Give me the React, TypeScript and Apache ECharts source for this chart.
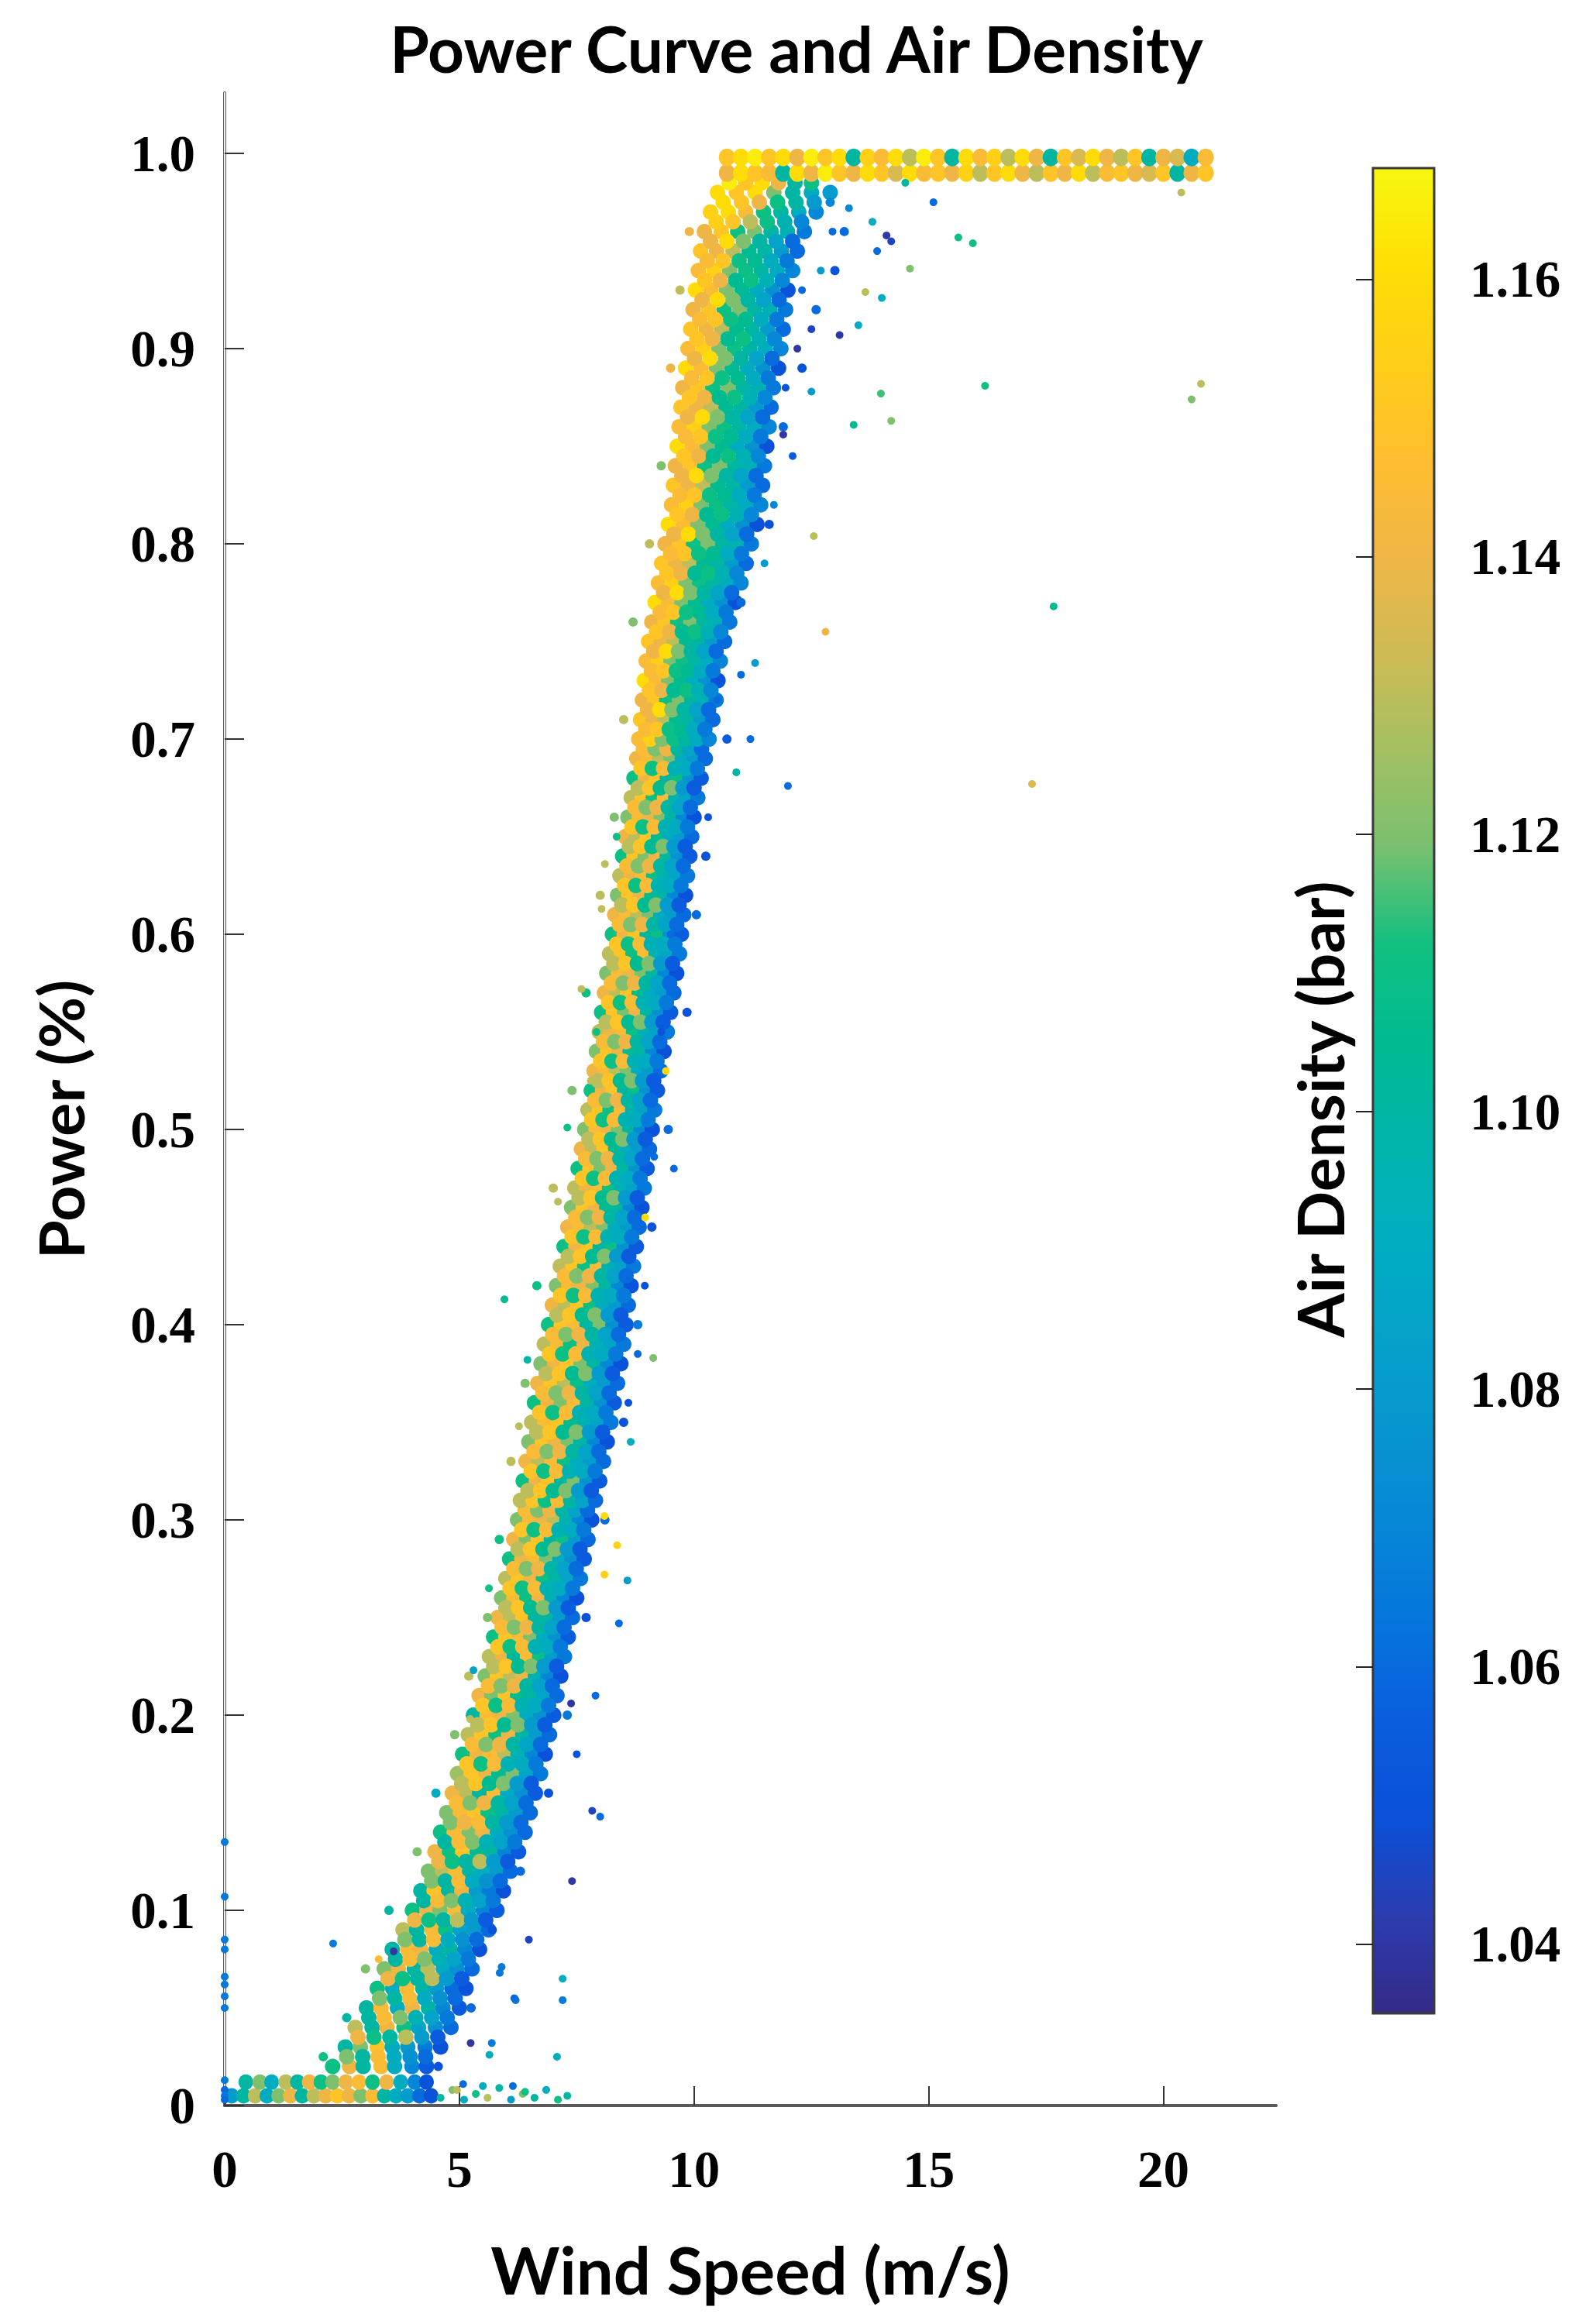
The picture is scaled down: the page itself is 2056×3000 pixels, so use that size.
import React, { useEffect, useRef } from "react";
import * as echarts from "echarts";

// ---------- axis ticks ----------
const xTicks = [0, 5, 10, 15, 20];
const yTicks = [0, 0.1, 0.2, 0.3, 0.4, 0.5, 0.6, 0.7, 0.8, 0.9, 1.0];
const densityTicks = [1.04, 1.06, 1.08, 1.1, 1.12, 1.14, 1.16];
const densityRange = [1.035, 1.168];
const windRange = [0, 22.4];
const powerRange = [0, 1.031];

// parula-like colour map, low density -> high density
const densityColors = [
  "#352a87", "#2b3cb0", "#0a50d8", "#0a5ddf", "#0575dc", "#0686d6", "#0795cf",
  "#05a2ca", "#00aec0", "#00b4aa", "#00bb92", "#10c080", "#78c070", "#a3c062",
  "#cfbb55", "#efb646", "#ffbe30", "#ffce18", "#ffde05", "#f7f710",
];

// ---------- data: "power | wind speeds | air densities" ----------
const baselineRows = [
  "0.005|0.15 0.40 0.65 0.90 1.15 1.40 1.65 1.90 2.15 2.40 2.65 2.90 3.15 3.40 3.65 3.90 4.15 4.40|1.08 1.10 1.13 1.09 1.12 1.14 1.10 1.13 1.14 1.15 1.14 1.12 1.145 1.10 1.09 1.08 1.06 1.05",
  "0.012|0.45 0.75 1.00 1.30 1.55 1.80 2.05 2.30 2.58 2.86 3.15 3.45 3.75 4.05 4.30|1.10 1.12 1.09 1.13 1.10 1.14 1.11 1.12 1.14 1.145 1.11 1.14 1.09 1.07 1.05",
];

const bandLower = [
  "0.02|2.30 2.66 2.95 3.33 3.62 3.99 4.30|1.11 1.14 1.10 1.145 1.09 1.07 1.055",
  "0.03|2.57 2.89 3.25 3.57 3.90 4.27 4.60|1.10 1.12 1.15 1.09 1.08 1.065 1.05",
  "0.04|2.78 3.14 3.46 3.82 4.13 4.49 4.82|1.13 1.10 1.14 1.11 1.085 1.075 1.06",
  "0.05|3.02 3.33 3.68 4.00 4.34 4.65 5.00|1.10 1.145 1.09 1.14 1.10 1.07 1.055",
  "0.06|3.25 3.58 3.88 4.22 4.51 4.84 5.14|1.11 1.09 1.145 1.10 1.08 1.06 1.05",
  "0.07|3.40 3.70 4.04 4.33 4.66 4.95 5.27|1.12 1.14 1.10 1.13 1.09 1.075 1.06",
  "0.08|3.57 3.90 4.18 4.51 4.81 5.12 5.43|1.10 1.145 1.14 1.09 1.10 1.07 1.05",
  "0.09|3.80 4.09 4.42 4.71 5.02 5.32 5.62|1.13 1.10 1.145 1.11 1.085 1.08 1.06",
  "0.10|4.00 4.31 4.59 4.91 5.19 5.51 5.80|1.11 1.14 1.12 1.145 1.09 1.07 1.055",
  "0.11|4.18 4.46 4.77 5.05 5.36 5.64 5.94|1.10 1.15 1.10 1.14 1.08 1.065 1.05",
  "0.12|4.34 4.64 4.92 5.22 5.50 5.80 6.09|1.12 1.13 1.145 1.10 1.09 1.08 1.06",
  "0.13|4.48 4.79 5.07 5.38 5.67 5.97 6.26|1.14 1.11 1.15 1.105 1.10 1.07 1.055",
  "0.14|4.60 4.89 5.21 5.49 5.81 6.10 6.40|1.11 1.145 1.12 1.14 1.09 1.075 1.06",
  "0.15|4.73 5.02 5.33 5.61 5.92 6.21 6.51|1.12 1.145 1.15 1.11 1.10 1.08 1.06",
  "0.16|4.85 5.16 5.43 5.74 6.03 6.33 6.62|1.14 1.13 1.10 1.145 1.09 1.075 1.055",
  "0.17|4.96 5.25 5.56 5.84 6.15 6.43 6.73|1.125 1.15 1.14 1.105 1.12 1.085 1.065",
  "0.18|5.07 5.38 5.66 5.97 6.25 6.55 6.83|1.11 1.14 1.145 1.13 1.095 1.07 1.05",
  "0.19|5.19 5.47 5.78 6.05 6.35 6.63 6.92|1.13 1.15 1.11 1.14 1.10 1.08 1.06",
  "0.20|5.30 5.59 5.86 6.16 6.44 6.73 7.01|1.10 1.145 1.14 1.12 1.09 1.075 1.055",
  "0.21|5.42 5.69 5.98 6.24 6.53 6.80 7.08|1.14 1.12 1.15 1.105 1.10 1.085 1.06",
  "0.22|5.55 5.81 6.09 6.35 6.62 6.89 7.16|1.12 1.15 1.13 1.14 1.095 1.07 1.05",
  "0.23|5.64 5.92 6.17 6.45 6.71 6.97 7.24|1.13 1.14 1.10 1.145 1.11 1.08 1.065",
  "0.24|5.73 5.99 6.27 6.52 6.80 7.05 7.32|1.11 1.15 1.145 1.12 1.09 1.075 1.055",
  "0.25|5.82 6.09 6.35 6.62 6.88 7.15 7.41|1.14 1.13 1.15 1.10 1.10 1.08 1.06",
  "0.26|5.90 6.16 6.44 6.70 6.97 7.23 7.50|1.12 1.145 1.11 1.14 1.095 1.07 1.05",
  "0.27|5.99 6.26 6.52 6.79 7.05 7.32 7.58|1.13 1.15 1.14 1.11 1.10 1.085 1.065",
  "0.28|6.07 6.33 6.61 6.86 7.14 7.40 7.66|1.11 1.14 1.145 1.12 1.09 1.075 1.055",
  "0.29|6.16 6.43 6.68 6.96 7.21 7.48 7.74|1.14 1.12 1.15 1.10 1.11 1.08 1.06",
  "0.30|6.24 6.50 6.77 7.03 7.29 7.56 7.82|1.12 1.145 1.14 1.13 1.095 1.07 1.05",
];

const bandMiddle = [
  "0.31|6.30 6.57 6.83 7.10 7.37 7.63 7.90|1.13 1.15 1.11 1.145 1.10 1.085 1.06",
  "0.32|6.36 6.64 6.90 7.18 7.45 7.72 7.99|1.11 1.14 1.15 1.10 1.12 1.075 1.055",
  "0.33|6.42 6.69 6.97 7.24 7.52 7.79 8.07|1.14 1.13 1.145 1.11 1.09 1.08 1.06",
  "0.34|6.48 6.77 7.04 7.32 7.59 7.88 8.15|1.12 1.15 1.14 1.12 1.10 1.07 1.05",
  "0.35|6.54 6.82 7.11 7.38 7.67 7.94 8.23|1.13 1.145 1.15 1.105 1.095 1.085 1.065",
  "0.36|6.60 6.89 7.17 7.45 7.73 8.02 8.30|1.11 1.14 1.12 1.145 1.10 1.075 1.055",
  "0.37|6.67 6.95 7.24 7.52 7.80 8.09 8.37|1.14 1.15 1.13 1.11 1.09 1.08 1.06",
  "0.38|6.74 7.03 7.30 7.59 7.87 8.16 8.44|1.12 1.14 1.15 1.12 1.10 1.07 1.05",
  "0.39|6.81 7.10 7.37 7.66 7.93 8.22 8.50|1.13 1.145 1.11 1.14 1.095 1.085 1.065",
  "0.40|6.90 7.17 7.45 7.72 8.00 8.27 8.55|1.11 1.15 1.145 1.10 1.12 1.075 1.055",
  "0.41|6.98 7.26 7.52 7.80 8.06 8.34 8.60|1.14 1.13 1.15 1.11 1.09 1.08 1.06",
  "0.42|7.07 7.33 7.60 7.86 8.13 8.39 8.66|1.12 1.145 1.14 1.12 1.10 1.07 1.05",
  "0.43|7.15 7.42 7.67 7.94 8.19 8.46 8.71|1.13 1.15 1.11 1.145 1.095 1.085 1.065",
  "0.44|7.23 7.48 7.75 8.00 8.26 8.51 8.77|1.11 1.14 1.15 1.10 1.11 1.075 1.055",
  "0.45|7.31 7.57 7.81 8.07 8.32 8.58 8.83|1.14 1.145 1.13 1.12 1.09 1.08 1.06",
  "0.46|7.39 7.64 7.89 8.14 8.39 8.64 8.89|1.12 1.15 1.14 1.105 1.10 1.07 1.05",
  "0.47|7.46 7.70 7.95 8.20 8.44 8.69 8.94|1.13 1.14 1.145 1.11 1.095 1.085 1.065",
  "0.48|7.53 7.78 8.02 8.27 8.51 8.76 9.00|1.11 1.15 1.12 1.14 1.10 1.075 1.055",
  "0.49|7.60 7.84 8.08 8.33 8.57 8.81 9.05|1.14 1.13 1.15 1.105 1.09 1.08 1.06",
  "0.50|7.67 7.91 8.15 8.39 8.63 8.87 9.11|1.12 1.145 1.14 1.12 1.10 1.07 1.05",
  "0.51|7.74 7.98 8.21 8.45 8.69 8.92 9.16|1.13 1.15 1.11 1.145 1.095 1.085 1.065",
  "0.52|7.81 8.05 8.28 8.52 8.75 8.99 9.22|1.11 1.14 1.15 1.10 1.11 1.075 1.055",
  "0.53|7.87 8.11 8.34 8.58 8.82 9.05 9.29|1.14 1.145 1.13 1.12 1.09 1.08 1.06",
  "0.54|7.92 8.16 8.40 8.64 8.88 9.12 9.36|1.12 1.15 1.14 1.105 1.10 1.07 1.05",
  "0.55|7.98 8.22 8.46 8.71 8.95 9.19 9.43|1.13 1.14 1.145 1.11 1.095 1.085 1.065",
  "0.56|8.03 8.28 8.52 8.77 9.01 9.26 9.50|1.11 1.15 1.12 1.14 1.10 1.075 1.055",
  "0.57|8.09 8.34 8.58 8.83 9.08 9.32 9.57|1.14 1.13 1.15 1.105 1.09 1.08 1.06",
  "0.58|8.14 8.39 8.64 8.89 9.13 9.38 9.63|1.12 1.145 1.14 1.12 1.10 1.07 1.05",
  "0.59|8.20 8.45 8.70 8.95 9.19 9.44 9.69|1.13 1.15 1.11 1.145 1.095 1.085 1.065",
  "0.60|8.26 8.51 8.75 9.00 9.24 9.49 9.73|1.11 1.14 1.15 1.10 1.11 1.075 1.055",
  "0.61|8.31 8.56 8.80 9.05 9.29 9.54 9.78|1.14 1.145 1.13 1.12 1.09 1.08 1.06",
  "0.62|8.37 8.61 8.85 9.10 9.34 9.58 9.82|1.12 1.15 1.14 1.105 1.10 1.07 1.05",
  "0.63|8.42 8.66 8.90 9.14 9.38 9.62 9.86|1.13 1.14 1.145 1.11 1.095 1.085 1.065",
  "0.64|8.48 8.72 8.96 9.19 9.43 9.67 9.91|1.11 1.15 1.12 1.14 1.10 1.075 1.055",
  "0.65|8.53 8.77 9.00 9.24 9.48 9.71 9.95|1.14 1.13 1.15 1.105 1.09 1.08 1.06",
  "0.66|8.59 8.83 9.06 9.30 9.53 9.77 10.00|1.12 1.145 1.14 1.12 1.10 1.07 1.05",
  "0.67|8.66 8.90 9.13 9.37 9.61 9.84 10.08|1.13 1.15 1.11 1.145 1.095 1.085 1.065",
  "0.68|8.72 8.96 9.20 9.43 9.67 9.91 10.15|1.11 1.14 1.15 1.10 1.11 1.075 1.055",
  "0.69|8.78 9.02 9.27 9.51 9.75 10.00 10.24|1.14 1.145 1.13 1.12 1.09 1.08 1.06",
];

const bandUpper = [
  "0.70|8.82 9.07 9.32 9.57 9.82 10.07 10.32|1.145 1.155 1.12 1.11 1.10 1.09 1.07",
  "0.71|8.86 9.12 9.37 9.63 9.89 10.14 10.40|1.15 1.14 1.13 1.105 1.10 1.08 1.06",
  "0.72|8.90 9.16 9.42 9.69 9.95 10.21 10.47|1.14 1.15 1.11 1.12 1.10 1.095 1.065",
  "0.73|8.94 9.20 9.46 9.73 9.99 10.25 10.51|1.16 1.145 1.12 1.105 1.09 1.075 1.05",
  "0.74|8.98 9.24 9.51 9.77 10.03 10.30 10.56|1.145 1.155 1.12 1.11 1.10 1.09 1.07",
  "0.75|9.03 9.30 9.57 9.84 10.11 10.38 10.65|1.15 1.14 1.13 1.105 1.10 1.08 1.06",
  "0.76|9.10 9.38 9.65 9.93 10.21 10.48 10.76|1.14 1.15 1.11 1.12 1.10 1.095 1.065",
  "0.77|9.17 9.46 9.74 10.03 10.31 10.60 10.88|1.16 1.145 1.12 1.105 1.09 1.075 1.05",
  "0.78|9.24 9.53 9.83 10.12 10.41 10.71 11.00|1.145 1.155 1.12 1.11 1.10 1.09 1.07",
  "0.79|9.31 9.61 9.91 10.21 10.51 10.81 11.11|1.15 1.14 1.13 1.105 1.10 1.08 1.06",
  "0.80|9.38 9.69 9.99 10.30 10.61 10.91 11.22|1.14 1.15 1.11 1.12 1.10 1.095 1.065",
  "0.81|9.45 9.77 10.08 10.40 10.71 11.03 11.34|1.16 1.145 1.12 1.105 1.09 1.075 1.05",
  "0.82|9.52 9.84 10.15 10.47 10.79 11.10 11.42|1.145 1.155 1.12 1.11 1.10 1.09 1.07",
  "0.83|9.56 9.88 10.19 10.51 10.83 11.14 11.46|1.15 1.14 1.13 1.105 1.10 1.08 1.06",
  "0.84|9.60 9.92 10.23 10.55 10.87 11.18 11.50|1.14 1.15 1.11 1.12 1.10 1.095 1.065",
  "0.85|9.64 9.96 10.28 10.60 10.91 11.23 11.55|1.16 1.145 1.12 1.105 1.09 1.075 1.05",
  "0.86|9.68 10.00 10.32 10.64 10.96 11.28 11.60|1.145 1.155 1.12 1.11 1.10 1.09 1.07",
  "0.87|9.72 10.04 10.36 10.68 11.00 11.32 11.64|1.15 1.14 1.13 1.105 1.10 1.08 1.06",
  "0.88|9.76 10.08 10.40 10.73 11.05 11.37 11.69|1.14 1.15 1.11 1.12 1.10 1.095 1.065",
  "0.89|9.82 10.15 10.48 10.81 11.14 11.47 11.80|1.16 1.145 1.12 1.105 1.09 1.075 1.05",
  "0.90|9.87 10.20 10.53 10.86 11.19 11.52 11.85|1.145 1.155 1.12 1.11 1.10 1.09 1.07",
  "0.91|9.93 10.26 10.59 10.91 11.24 11.57 11.90|1.15 1.14 1.13 1.105 1.10 1.08 1.06",
  "0.92|9.98 10.31 10.64 10.97 11.29 11.62 11.95|1.14 1.15 1.11 1.12 1.10 1.095 1.065",
  "0.93|10.03 10.36 10.69 11.02 11.34 11.67 12.00|1.16 1.145 1.12 1.105 1.09 1.075 1.05",
  "0.94|10.09 10.43 10.76 11.10 11.43 11.77 12.10|1.145 1.155 1.12 1.11 1.10 1.09 1.07",
  "0.95|10.14 10.48 10.83 11.17 11.51 11.86 12.20|1.15 1.14 1.13 1.105 1.10 1.08 1.06",
  "0.96|10.22 10.58 10.93 11.29 11.64 11.99 12.35|1.14 1.15 1.11 1.12 1.10 1.095 1.065",
  "0.97|10.35 10.73 11.10 11.48 11.85 12.23 12.60|1.155 1.16 1.145 1.11 1.10 1.09 1.07",
  "0.98|10.50 10.90 11.30 11.70 12.10 12.50 12.90|1.16 1.15 1.16 1.12 1.10 1.09 1.08",
];

// in-between rows of the band (read at half steps of power)
const bandHalfLower = [
  "0.025|2.60 2.94 3.27 3.61 3.95 4.28|1.12 1.10 1.145 1.09 1.075 1.06",
  "0.035|2.84 3.18 3.52 3.86 4.20 4.54|1.14 1.11 1.10 1.13 1.08 1.055",
  "0.045|3.07 3.40 3.74 4.07 4.41 4.74|1.10 1.145 1.12 1.095 1.085 1.065",
  "0.055|3.30 3.62 3.94 4.26 4.59 4.91|1.12 1.10 1.145 1.09 1.075 1.06",
  "0.065|3.48 3.79 4.11 4.42 4.73 5.05|1.14 1.11 1.10 1.13 1.08 1.055",
  "0.075|3.64 3.95 4.26 4.57 4.88 5.19|1.10 1.145 1.12 1.095 1.085 1.065",
  "0.085|3.84 4.15 4.45 4.76 5.07 5.37|1.12 1.10 1.145 1.09 1.075 1.06",
  "0.095|4.05 4.35 4.66 4.96 5.26 5.56|1.14 1.11 1.10 1.13 1.08 1.055",
  "0.105|4.24 4.54 4.83 5.13 5.43 5.72|1.10 1.145 1.12 1.095 1.085 1.065",
  "0.115|4.41 4.70 4.99 5.28 5.58 5.87|1.12 1.10 1.145 1.09 1.075 1.06",
  "0.125|4.56 4.85 5.14 5.44 5.73 6.03|1.14 1.11 1.10 1.13 1.08 1.055",
  "0.135|4.69 4.99 5.28 5.58 5.88 6.18|1.10 1.145 1.12 1.095 1.085 1.065",
  "0.145|4.81 5.11 5.41 5.71 6.01 6.31|1.12 1.14 1.145 1.10 1.08 1.06",
  "0.155|4.94 5.23 5.53 5.83 6.12 6.42|1.145 1.12 1.14 1.10 1.085 1.06",
  "0.165|5.05 5.35 5.64 5.94 6.23 6.53|1.13 1.15 1.105 1.12 1.08 1.055",
  "0.175|5.16 5.46 5.75 6.04 6.34 6.63|1.15 1.11 1.145 1.095 1.09 1.065",
  "0.185|5.28 5.57 5.86 6.15 6.44 6.73|1.145 1.12 1.14 1.10 1.085 1.06",
  "0.195|5.39 5.68 5.96 6.25 6.54 6.82|1.13 1.15 1.105 1.12 1.08 1.055",
  "0.205|5.50 5.78 6.06 6.34 6.62 6.90|1.15 1.11 1.145 1.095 1.09 1.065",
  "0.215|5.62 5.89 6.17 6.44 6.71 6.98|1.145 1.12 1.14 1.10 1.085 1.06",
  "0.225|5.73 6.00 6.26 6.53 6.80 7.07|1.13 1.15 1.105 1.12 1.08 1.055",
  "0.235|5.82 6.08 6.35 6.62 6.88 7.15|1.15 1.11 1.145 1.095 1.09 1.065",
  "0.245|5.91 6.17 6.44 6.70 6.97 7.23|1.145 1.12 1.14 1.10 1.085 1.06",
  "0.255|5.99 6.26 6.52 6.79 7.06 7.32|1.13 1.15 1.105 1.12 1.08 1.055",
  "0.265|6.08 6.34 6.61 6.87 7.14 7.41|1.15 1.11 1.145 1.095 1.09 1.065",
  "0.275|6.16 6.43 6.69 6.96 7.22 7.49|1.145 1.12 1.14 1.10 1.085 1.06",
  "0.285|6.25 6.51 6.78 7.04 7.30 7.57|1.13 1.15 1.105 1.12 1.08 1.055",
  "0.295|6.33 6.59 6.86 7.12 7.38 7.65|1.15 1.11 1.145 1.095 1.09 1.065",
  "0.305|6.40 6.67 6.93 7.20 7.46 7.73|1.145 1.12 1.14 1.10 1.085 1.06",
];

const bandHalfMiddle = [
  "0.315|6.46 6.73 7.00 7.27 7.54 7.81|1.13 1.15 1.105 1.12 1.08 1.055",
  "0.325|6.53 6.80 7.07 7.35 7.62 7.89|1.15 1.11 1.145 1.095 1.09 1.065",
  "0.335|6.59 6.87 7.14 7.42 7.70 7.97|1.145 1.12 1.14 1.10 1.085 1.06",
  "0.345|6.65 6.93 7.21 7.49 7.77 8.05|1.13 1.15 1.105 1.12 1.08 1.055",
  "0.355|6.71 6.99 7.28 7.56 7.84 8.12|1.15 1.11 1.145 1.095 1.09 1.065",
  "0.365|6.78 7.06 7.34 7.62 7.91 8.19|1.145 1.12 1.14 1.10 1.085 1.06",
  "0.375|6.85 7.13 7.41 7.69 7.98 8.26|1.13 1.15 1.105 1.12 1.08 1.055",
  "0.385|6.92 7.20 7.48 7.76 8.05 8.33|1.15 1.11 1.145 1.095 1.09 1.065",
  "0.395|6.99 7.27 7.55 7.83 8.11 8.39|1.145 1.12 1.14 1.10 1.085 1.06",
  "0.405|7.08 7.35 7.62 7.89 8.17 8.44|1.13 1.15 1.105 1.12 1.08 1.055",
  "0.415|7.16 7.43 7.69 7.96 8.23 8.50|1.15 1.11 1.145 1.095 1.09 1.065",
  "0.425|7.24 7.50 7.77 8.03 8.29 8.55|1.145 1.12 1.14 1.10 1.085 1.06",
  "0.435|7.32 7.58 7.84 8.09 8.35 8.61|1.13 1.15 1.105 1.12 1.08 1.055",
  "0.445|7.40 7.65 7.91 8.16 8.42 8.67|1.15 1.11 1.145 1.095 1.09 1.065",
  "0.455|7.48 7.73 7.98 8.23 8.48 8.73|1.145 1.12 1.14 1.10 1.085 1.06",
  "0.465|7.55 7.80 8.05 8.29 8.54 8.79|1.13 1.15 1.105 1.12 1.08 1.055",
  "0.475|7.62 7.86 8.11 8.35 8.60 8.85|1.15 1.11 1.145 1.095 1.09 1.065",
  "0.485|7.69 7.93 8.17 8.42 8.66 8.90|1.145 1.12 1.14 1.10 1.085 1.06",
  "0.495|7.76 8.00 8.24 8.48 8.72 8.96|1.13 1.15 1.105 1.12 1.08 1.055",
  "0.505|7.82 8.06 8.30 8.54 8.78 9.02|1.15 1.11 1.145 1.095 1.09 1.065",
  "0.515|7.89 8.13 8.37 8.60 8.84 9.07|1.145 1.12 1.14 1.10 1.085 1.06",
  "0.525|7.96 8.19 8.43 8.67 8.90 9.14|1.13 1.15 1.105 1.12 1.08 1.055",
  "0.535|8.01 8.25 8.49 8.73 8.97 9.21|1.15 1.11 1.145 1.095 1.09 1.065",
  "0.545|8.07 8.31 8.55 8.79 9.03 9.27|1.145 1.12 1.14 1.10 1.085 1.06",
  "0.555|8.13 8.37 8.61 8.86 9.10 9.34|1.13 1.15 1.105 1.12 1.08 1.055",
  "0.565|8.18 8.43 8.68 8.92 9.17 9.41|1.15 1.11 1.145 1.095 1.09 1.065",
  "0.575|8.24 8.49 8.73 8.98 9.23 9.48|1.145 1.12 1.14 1.10 1.085 1.06",
  "0.585|8.29 8.54 8.79 9.04 9.29 9.54|1.13 1.15 1.105 1.12 1.08 1.055",
  "0.595|8.35 8.60 8.85 9.09 9.34 9.59|1.15 1.11 1.145 1.095 1.09 1.065",
  "0.605|8.41 8.65 8.90 9.14 9.39 9.63|1.145 1.12 1.14 1.10 1.085 1.06",
  "0.615|8.46 8.71 8.95 9.19 9.43 9.68|1.13 1.15 1.105 1.12 1.08 1.055",
  "0.625|8.52 8.76 9.00 9.24 9.48 9.72|1.15 1.11 1.145 1.095 1.09 1.065",
  "0.635|8.57 8.81 9.05 9.29 9.53 9.77|1.145 1.12 1.14 1.10 1.085 1.06",
  "0.645|8.62 8.86 9.10 9.34 9.57 9.81|1.13 1.15 1.105 1.12 1.08 1.055",
  "0.655|8.68 8.91 9.15 9.39 9.62 9.86|1.15 1.11 1.145 1.095 1.09 1.065",
  "0.665|8.74 8.98 9.21 9.45 9.69 9.92|1.145 1.12 1.14 1.10 1.085 1.06",
  "0.675|8.81 9.05 9.28 9.52 9.76 10.00|1.13 1.15 1.105 1.12 1.08 1.055",
  "0.685|8.87 9.11 9.35 9.59 9.83 10.07|1.15 1.11 1.145 1.095 1.09 1.065",
  "0.695|8.92 9.17 9.42 9.66 9.91 10.16|1.145 1.12 1.14 1.10 1.085 1.06",
];

const bandHalfUpper = [
  "0.705|8.97 9.22 9.47 9.73 9.98 10.23|1.145 1.15 1.11 1.105 1.09 1.065",
  "0.715|9.01 9.27 9.53 9.79 10.05 10.31|1.14 1.16 1.12 1.10 1.085 1.06",
  "0.725|9.05 9.31 9.57 9.84 10.10 10.36|1.15 1.14 1.105 1.11 1.095 1.07",
  "0.735|9.09 9.35 9.62 9.88 10.14 10.40|1.145 1.15 1.11 1.105 1.09 1.065",
  "0.745|9.14 9.41 9.67 9.94 10.21 10.47|1.14 1.16 1.12 1.10 1.085 1.06",
  "0.755|9.20 9.48 9.75 10.02 10.30 10.57|1.15 1.14 1.105 1.11 1.095 1.07",
  "0.765|9.28 9.56 9.84 10.12 10.40 10.68|1.145 1.15 1.11 1.105 1.09 1.065",
  "0.775|9.35 9.64 9.93 10.22 10.51 10.80|1.14 1.16 1.12 1.10 1.085 1.06",
  "0.785|9.42 9.72 10.02 10.31 10.61 10.91|1.15 1.14 1.105 1.11 1.095 1.07",
  "0.795|9.50 9.80 10.10 10.41 10.71 11.01|1.145 1.15 1.11 1.105 1.09 1.065",
  "0.805|9.57 9.88 10.19 10.50 10.81 11.12|1.14 1.16 1.12 1.10 1.085 1.06",
  "0.815|9.64 9.96 10.27 10.59 10.91 11.22|1.15 1.14 1.105 1.11 1.095 1.07",
  "0.825|9.70 10.01 10.33 10.65 10.96 11.28|1.145 1.15 1.11 1.105 1.09 1.065",
  "0.835|9.74 10.05 10.37 10.69 11.00 11.32|1.14 1.16 1.12 1.10 1.085 1.06",
  "0.845|9.78 10.10 10.41 10.73 11.05 11.37|1.15 1.14 1.105 1.11 1.095 1.07",
  "0.855|9.82 10.14 10.46 10.78 11.10 11.42|1.145 1.15 1.11 1.105 1.09 1.065",
  "0.865|9.86 10.18 10.50 10.82 11.14 11.46|1.14 1.16 1.12 1.10 1.085 1.06",
  "0.875|9.90 10.22 10.54 10.86 11.19 11.51|1.15 1.14 1.105 1.11 1.095 1.07",
  "0.885|9.95 10.28 10.60 10.93 11.26 11.58|1.145 1.15 1.11 1.105 1.09 1.065",
  "0.895|10.01 10.34 10.67 11.00 11.33 11.66|1.14 1.16 1.12 1.10 1.085 1.06",
  "0.905|10.06 10.39 10.72 11.05 11.38 11.71|1.15 1.14 1.105 1.11 1.095 1.07",
  "0.915|10.12 10.45 10.78 11.10 11.43 11.76|1.145 1.15 1.11 1.105 1.09 1.065",
  "0.925|10.17 10.50 10.83 11.15 11.48 11.81|1.14 1.16 1.12 1.10 1.085 1.06",
  "0.935|10.23 10.56 10.89 11.22 11.55 11.88|1.15 1.14 1.105 1.11 1.095 1.07",
  "0.945|10.28 10.62 10.96 11.30 11.64 11.98|1.145 1.15 1.11 1.105 1.09 1.065",
  "0.955|10.35 10.70 11.05 11.40 11.75 12.10|1.14 1.16 1.12 1.10 1.085 1.06",
  "0.965|10.47 10.83 11.20 11.56 11.93 12.29|1.155 1.15 1.13 1.11 1.095 1.07",
  "0.975|10.62 11.01 11.39 11.78 12.17 12.56|1.16 1.15 1.14 1.11 1.10 1.08",
  "0.985|10.75 11.10 11.45 11.80 12.15 12.50|1.165 1.15 1.16 1.14 1.10 1.11",
];

const plateauRows = [
  "0.990|10.70 11.00 11.30 11.60 11.90 12.20 12.50 12.80 13.10 13.40 13.70 14.00 14.30 14.60 14.90 15.20 15.50 15.80 16.10 16.40 16.70 17.00 17.30 17.60 17.90 18.20 18.50 18.80 19.10 19.40 19.70 20.00 20.30 20.60 20.90|1.14 1.16 1.15 1.145 1.10 1.16 1.14 1.165 1.15 1.14 1.16 1.15 1.135 1.16 1.145 1.15 1.14 1.155 1.13 1.15 1.16 1.14 1.13 1.15 1.14 1.16 1.13 1.145 1.15 1.14 1.135 1.15 1.10 1.14 1.15",
  "0.998|10.70 11.00 11.30 11.60 11.90 12.20 12.50 12.80 13.10 13.40 13.70 14.00 14.30 14.60 14.90 15.20 15.50 15.80 16.10 16.40 16.70 17.00 17.30 17.60 17.90 18.20 18.50 18.80 19.10 19.40 19.70 20.00 20.30 20.60 20.90|1.15 1.16 1.165 1.15 1.16 1.14 1.165 1.15 1.16 1.10 1.155 1.145 1.16 1.13 1.165 1.15 1.10 1.16 1.145 1.155 1.13 1.16 1.14 1.10 1.15 1.135 1.16 1.14 1.13 1.15 1.10 1.14 1.135 1.09 1.145",
];

// isolated points: [wind speed, power, air density]
const axisPoints = [
  [0, 0.135, 1.065], [0, 0.107, 1.065], [0, 0.085, 1.065], [0, 0.08, 1.065],
  [0, 0.066, 1.065], [0, 0.062, 1.065], [0, 0.056, 1.065], [0, 0.05, 1.065],
  [0, 0.013, 1.065], [0, 0.008, 1.06], [0, 0.005, 1.065], [0, 0.003, 1.06],
];

const bottomPoints = [
  [4.6, 0.004, 1.1], [4.85, 0.008, 1.12], [5.1, 0.003, 1.09], [5.35, 0.006, 1.11],
  [5.6, 0.004, 1.13], [5.85, 0.009, 1.1], [6.1, 0.003, 1.08], [6.35, 0.006, 1.12],
  [6.6, 0.004, 1.1], [6.85, 0.008, 1.09], [7.1, 0.003, 1.11], [7.3, 0.005, 1.1],
  [5.08, 0.011, 1.06], [6.14, 0.01, 1.06], [5.5, 0.01, 1.09], [4.95, 0.008, 1.13],
  [6.4, 0.007, 1.11], [7.08, 0.025, 1.09], [5.64, 0.026, 1.09], [5.24, 0.032, 1.04],
  [5.69, 0.032, 1.065], [6.2, 0.054, 1.065], [7.2, 0.054, 1.065], [7.2, 0.065, 1.09],
  [6.17, 0.055, 1.06], [5.86, 0.068, 1.065], [5.9, 0.071, 1.065], [6.48, 0.085, 1.045],
  [2.31, 0.083, 1.065], [3.28, 0.075, 1.145], [3.6, 0.079, 1.04],
];

const leftFringe = [
  [2.1, 0.025, 1.11], [2.6, 0.045, 1.1], [3.0, 0.07, 1.12], [3.5, 0.1, 1.1],
  [4.1, 0.13, 1.12], [4.5, 0.16, 1.09], [4.9, 0.19, 1.12], [5.2, 0.22, 1.13],
  [5.6, 0.25, 1.12], [5.85, 0.29, 1.11], [6.1, 0.33, 1.13], [6.4, 0.37, 1.12],
  [6.65, 0.42, 1.11], [7.0, 0.47, 1.13], [7.4, 0.52, 1.12], [7.7, 0.57, 1.11],
  [8.0, 0.62, 1.13], [8.3, 0.66, 1.12], [8.5, 0.71, 1.13], [8.7, 0.76, 1.12],
  [9.05, 0.8, 1.13], [9.3, 0.84, 1.12], [9.5, 0.89, 1.14], [9.7, 0.93, 1.13],
  [9.9, 0.96, 1.14],
];

const rightFringe = [
  [4.55, 0.02, 1.05], [5.25, 0.05, 1.06], [5.7, 0.09, 1.05], [6.3, 0.12, 1.06],
  [6.9, 0.16, 1.05], [7.3, 0.2, 1.065], [7.7, 0.25, 1.05], [8.1, 0.3, 1.06],
  [8.5, 0.35, 1.05], [8.8, 0.4, 1.065], [9.1, 0.45, 1.05], [9.45, 0.5, 1.06],
  [9.85, 0.56, 1.05], [10.05, 0.61, 1.06], [10.25, 0.64, 1.05], [10.7, 0.7, 1.055],
  [11.0, 0.77, 1.06], [11.6, 0.81, 1.05], [11.9, 0.86, 1.06], [12.3, 0.89, 1.05],
  [12.6, 0.92, 1.06], [13.0, 0.94, 1.05], [13.2, 0.96, 1.06], [12.9, 0.975, 1.07],
];

const outlierPoints = [
  [20.38, 0.98, 1.13], [15.63, 0.957, 1.11], [15.94, 0.954, 1.11], [15.1, 0.975, 1.06],
  [14.6, 0.941, 1.12], [14.0, 0.926, 1.09], [13.5, 0.912, 1.09], [13.1, 0.907, 1.04],
  [13.65, 0.929, 1.13], [16.2, 0.881, 1.11], [20.8, 0.882, 1.13], [20.6, 0.874, 1.12],
  [13.98, 0.877, 1.115], [14.2, 0.863, 1.12], [13.4, 0.861, 1.105], [12.5, 0.878, 1.08],
  [12.55, 0.804, 1.13], [17.66, 0.768, 1.105], [12.8, 0.755, 1.14], [11.3, 0.739, 1.08],
  [11.0, 0.733, 1.06], [17.2, 0.677, 1.135], [12.0, 0.676, 1.06], [10.9, 0.683, 1.1],
  [14.1, 0.958, 1.04], [14.2, 0.955, 1.045], [11.9, 0.856, 1.04], [12.2, 0.9, 1.04],
  [12.5, 0.91, 1.045], [12.95, 0.96, 1.06], [13.3, 0.972, 1.07], [12.7, 0.94, 1.08],
  [13.8, 0.965, 1.09], [12.3, 0.93, 1.06], [11.95, 0.88, 1.05], [12.1, 0.845, 1.055],
  [11.7, 0.82, 1.07], [11.5, 0.79, 1.08], [14.5, 0.985, 1.1], [13.9, 0.95, 1.06],
  [11.2, 0.7, 1.06], [5.96, 0.413, 1.105], [7.6, 0.572, 1.13], [7.3, 0.501, 1.11],
  [7.1, 0.463, 1.13], [6.45, 0.382, 1.1], [6.27, 0.348, 1.13], [9.57, 0.48, 1.06],
  [9.13, 0.383, 1.12], [8.8, 0.385, 1.06], [8.4, 0.247, 1.06], [8.58, 0.269, 1.08],
  [8.09, 0.272, 1.155], [8.36, 0.287, 1.155], [8.09, 0.302, 1.16], [7.38, 0.206, 1.04],
  [7.83, 0.151, 1.045], [5.3, 0.223, 1.085], [5.63, 0.265, 1.11], [8.65, 0.34, 1.09],
  [5.23, 0.198, 1.13], [8.0, 0.148, 1.06], [7.4, 0.115, 1.04], [8.1, 0.636, 1.13],
  [8.03, 0.613, 1.13], [8.35, 0.65, 1.11], [7.92, 0.55, 1.11], [7.8, 0.525, 1.13],
  [9.4, 0.53, 1.16], [8.96, 0.455, 1.16], [9.15, 0.486, 1.06], [9.3, 0.55, 1.05],
  [9.5, 0.6, 1.06], [8.95, 0.42, 1.05], [8.6, 0.36, 1.05], [7.9, 0.21, 1.06],
  [7.5, 0.18, 1.05], [10.3, 0.66, 1.05], [10.5, 0.72, 1.06],
];

function parseRows(rows: string[]): number[][] {
  const out: number[][] = [];
  rows.forEach((row) => {
    const [p, xs, ds] = row.split("|");
    const xa = xs.trim().split(/\s+/).map(Number);
    const da = ds.trim().split(/\s+/).map(Number);
    xa.forEach((x, i) => out.push([x, Number(p), da[i]]));
  });
  return out;
}

const tickFont = "'Liberation Serif', 'DejaVu Serif', serif";
const nameFont = "Lato, 'Open Sans', sans-serif";

export default function App() {
  const ref = useRef<HTMLDivElement>(null);

  useEffect(() => {
    document.body.style.margin = "0";
    if (!ref.current) return;
    const chart = echarts.init(ref.current, undefined, { renderer: "svg" });

    const cbLeft = 1772;
    const cbTop = 217;
    const cbWidth = 79;
    const cbHeight = 2382;

    const gradientStops = densityColors.map((c, i) => ({
      offset: i / (densityColors.length - 1),
      color: c,
    }));

    const scatterBase = {
      type: "scatter",
      xAxisIndex: 0,
      yAxisIndex: 0,
      symbol: "circle",
      itemStyle: { opacity: 1 },
      emphasis: { disabled: true },
    };

    chart.setOption({
      animation: false,
      backgroundColor: "#ffffff",
      title: {
        text: "Power Curve and Air Density",
        left: "center",
        top: 16,
        textStyle: { fontFamily: nameFont, fontWeight: "bold", fontSize: 82, color: "#000" },
      },
      grid: [
        { left: 290, top: 120, width: 1357, height: 2598 },
        { left: cbLeft, top: cbTop, width: cbWidth, height: cbHeight },
      ],
      xAxis: [
        {
          gridIndex: 0,
          type: "value",
          min: windRange[0],
          max: windRange[1],
          splitLine: { show: false },
          axisLine: { show: true, onZero: false, lineStyle: { color: "#5a5a5a", width: 4 } },
          axisTick: { show: true, inside: true, length: 25, customValues: xTicks, lineStyle: { color: "#333", width: 2 } },
          axisLabel: {
            customValues: xTicks,
            margin: 48,
            fontFamily: tickFont,
            fontWeight: "bold",
            fontSize: 67,
            color: "#000",
          },
          name: "Wind Speed (m/s)",
          nameLocation: "middle",
          nameGap: 168,
          nameTextStyle: { fontFamily: nameFont, fontWeight: "bold", fontSize: 85, color: "#000" },
        },
        { gridIndex: 1, type: "value", min: 0, max: 1, show: false },
      ],
      yAxis: [
        {
          gridIndex: 0,
          type: "value",
          min: powerRange[0],
          max: powerRange[1],
          splitLine: { show: false },
          axisLine: { show: true, onZero: false, lineStyle: { color: "#5a5a5a", width: 4 } },
          axisTick: { show: true, inside: true, length: 25, customValues: yTicks, lineStyle: { color: "#333", width: 2 } },
          axisLabel: {
            customValues: yTicks,
            margin: 38,
            fontFamily: tickFont,
            fontWeight: "bold",
            fontSize: 67,
            color: "#000",
            formatter: (v: number) => (v === 0 ? "0" : v.toFixed(1)),
          },
          name: "Power (%)",
          nameLocation: "middle",
          nameGap: 172,
          nameTextStyle: { fontFamily: nameFont, fontWeight: "bold", fontSize: 81, color: "#000", padding: [0, 52, 0, 0] },
        },
        {
          gridIndex: 0,
          type: "value",
          position: "right",
          min: powerRange[0],
          max: powerRange[1],
          splitLine: { show: false },
          axisLine: { show: true, lineStyle: { color: "#ececec", width: 2 } },
          axisTick: { show: false },
          axisLabel: { show: false },
        },
        {
          gridIndex: 1,
          type: "value",
          position: "right",
          min: densityRange[0],
          max: densityRange[1],
          splitLine: { show: false },
          axisLine: { show: false },
          axisTick: { show: true, inside: true, length: 22, customValues: densityTicks, lineStyle: { color: "#222", width: 2 } },
          axisLabel: {
            customValues: densityTicks,
            margin: 46,
            fontFamily: tickFont,
            fontWeight: "bold",
            fontSize: 67,
            color: "#000",
            formatter: (v: number) => v.toFixed(2),
          },
          z: 10,
        },
        {
          gridIndex: 1,
          type: "value",
          position: "left",
          min: densityRange[0],
          max: densityRange[1],
          splitLine: { show: false },
          axisLine: { show: false },
          axisTick: { show: false },
          axisLabel: { show: false },
          name: "Air Density (bar)",
          nameLocation: "middle",
          nameGap: 28,
          nameTextStyle: { fontFamily: nameFont, fontWeight: "bold", fontSize: 82, color: "#000", padding: [0, 48, 0, 0] },
        },
      ],
      visualMap: {
        type: "continuous",
        show: false,
        dimension: 2,
        min: densityRange[0],
        max: densityRange[1],
        seriesIndex: [0, 1, 2, 3, 4],
        inRange: { color: densityColors },
      },
      graphic: [
        {
          type: "rect",
          z: -1,
          shape: { x: cbLeft, y: cbTop, width: cbWidth, height: cbHeight },
          style: {
            fill: new echarts.graphic.LinearGradient(0, 1, 0, 0, gradientStops),
            stroke: "#3a3a3a",
            lineWidth: 3,
          },
        },
      ],
      series: [
        { ...scatterBase, name: "baseline", symbolSize: [19, 20], data: parseRows(baselineRows) },
        {
          ...scatterBase,
          name: "band",
          symbolSize: 20,
          data: parseRows([
            ...bandLower, ...bandHalfLower,
            ...bandMiddle, ...bandHalfMiddle,
            ...bandUpper, ...bandHalfUpper,
          ]),
        },
        { ...scatterBase, name: "plateau", symbolSize: [21, 23], data: parseRows(plateauRows) },
        { ...scatterBase, name: "fringe", symbolSize: 12, data: [...leftFringe, ...rightFringe] },
        {
          ...scatterBase,
          name: "sparse",
          symbolSize: 10,
          data: [...axisPoints, ...bottomPoints, ...outlierPoints],
        },
      ],
    });

    return () => chart.dispose();
  }, []);

  return <div ref={ref} style={{ width: 2056, height: 3000 }} />;
}
